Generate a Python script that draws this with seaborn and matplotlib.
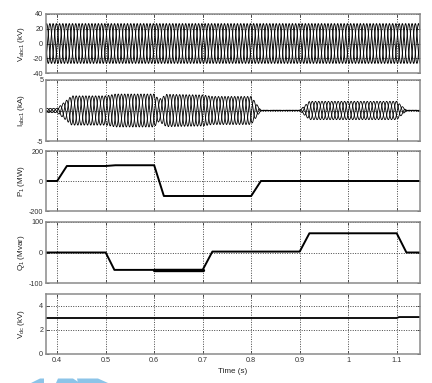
import numpy as np
import pandas as pd
import matplotlib
matplotlib.use("Agg")
import matplotlib.pyplot as plt
from matplotlib.patches import Polygon
import seaborn as sns

# ---------------- data ----------------
x_ticks = [0.4, 0.5, 0.6, 0.7, 0.8, 0.9, 1.0, 1.1]
x_tick_labels = ["0.4", "0.5", "0.6", "0.7", "0.8", "0.9", "1", "1.1"]

freq_hz = 50.0
v_amp_kv = 27.0

# current envelope breakpoints (s, kA)
i_env_t = [0.375, 0.400, 0.430, 0.500, 0.520, 0.600, 0.610, 0.625, 0.700, 0.720, 0.800, 0.820, 0.900, 0.920, 1.100, 1.120, 1.150]
i_env_a = [0.35, 0.35, 2.40, 2.40, 2.70, 2.70, 1.80, 2.65, 2.55, 2.30, 2.30, 0.05, 0.05, 1.50, 1.50, 0.05, 0.05]

# active power P1 breakpoints (s, MW)
p_t = [0.375, 0.400, 0.420, 0.500, 0.520, 0.600, 0.620, 0.800, 0.820, 1.150]
p_v = [0, 0, 100, 100, 105, 105, -100, -100, 0, 0]

# reactive power Q1 breakpoints (s, Mvar)
q_t = [0.375, 0.500, 0.518, 0.700, 0.720, 0.900, 0.920, 1.100, 1.120, 1.150]
q_v = [0, 0, -57, -57, 3, 3, 63, 63, 0, 0]
q_noisy_span = [0.60, 0.70]

# dc voltage breakpoints (s, kV)
vdc_t = [0.375, 1.100, 1.105, 1.150]
vdc_v = [3.0, 3.0, 3.08, 3.08]

phases = ["a", "b", "c"]
phase_shift_deg = [0, -120, 120]

# ---------------- figure ----------------
W, H, DPI = 432, 383, 100
sns.set_theme(style="white")
plt.rcParams["font.family"] = ["Liberation Sans", "DejaVu Sans"]
plt.rcParams["mathtext.fontset"] = "custom"
plt.rcParams["mathtext.rm"] = "Liberation Sans"
plt.rcParams["mathtext.it"] = "Liberation Sans"

fig = plt.figure(figsize=(W / DPI, H / DPI), dpi=DPI)
fig.patch.set_facecolor("white")

left_px, right_px = 46, 420
panels_px = [(14, 73), (80, 141), (151, 211), (222, 283), (294, 354)]
axes = []
for top, bot in panels_px:
    ax = fig.add_axes([left_px / W, 1 - bot / H, (right_px - left_px) / W, (bot - top) / H])
    axes.append(ax)

t = np.arange(0.375, 1.1501, 0.0002)

# three-phase voltage
rows = []
for ph, sh in zip(phases, phase_shift_deg):
    v = v_amp_kv * np.sin(2 * np.pi * freq_hz * t + np.deg2rad(sh))
    rows.append(pd.DataFrame({"t": t, "v": v, "phase": ph}))
df_v = pd.concat(rows)
sns.lineplot(data=df_v, x="t", y="v", hue="phase", palette=["black"] * 3,
             estimator=None, sort=False, lw=0.65, legend=False, ax=axes[0])

# three-phase current
env = np.interp(t, i_env_t, i_env_a)
rows = []
for ph, sh in zip(phases, phase_shift_deg):
    i = env * np.sin(2 * np.pi * freq_hz * t + np.deg2rad(sh) - 0.3)
    rows.append(pd.DataFrame({"t": t, "i": i, "phase": ph}))
df_i = pd.concat(rows)
sns.lineplot(data=df_i, x="t", y="i", hue="phase", palette=["black"] * 3,
             estimator=None, sort=False, lw=0.6, legend=False, ax=axes[1])

# P1
df_p = pd.DataFrame({"t": p_t, "p": p_v})
sns.lineplot(data=df_p, x="t", y="p", color="black", lw=1.4, estimator=None, ax=axes[2])

# Q1
df_q = pd.DataFrame({"t": q_t, "q": q_v})
sns.lineplot(data=df_q, x="t", y="q", color="black", lw=1.4, estimator=None, ax=axes[3])
df_qn = pd.DataFrame({"t": q_noisy_span, "q": np.interp(q_noisy_span, q_t, q_v)})
sns.lineplot(data=df_qn, x="t", y="q", color="black", lw=2.4, estimator=None, ax=axes[3])

# Vdc
df_dc = pd.DataFrame({"t": vdc_t, "v": vdc_v})
sns.lineplot(data=df_dc, x="t", y="v", color="black", lw=1.3, estimator=None, ax=axes[4])

ylims = [(-40, 40), (-5, 5), (-200, 200), (-100, 100), (0, 5)]
yticks = [[-40, -20, 0, 20, 40], [-5, 0, 5], [-200, 0, 200], [-100, 0, 100], [0, 2, 4]]
ylabels = [r"V$_{abc1}$ (kV)", r"I$_{abc1}$ (kA)", r"P$_1$ (MW)", r"Q$_1$ (Mvar)", r"V$_{dc}$ (kV)"]

for k, ax in enumerate(axes):
    ax.set_xlim(0.377, 1.148)
    ax.set_ylim(*ylims[k])
    ax.set_yticks(yticks[k])
    ax.set_yticklabels([str(v) for v in yticks[k]])
    ax.set_xticks(x_ticks)
    if k == len(axes) - 1:
        ax.set_xticklabels(x_tick_labels)
        ax.set_xlabel("Time (s)", fontsize=5.8, color="#222222", labelpad=3)
    else:
        ax.set_xticklabels([])
        ax.set_xlabel("")
    ax.set_ylabel(ylabels[k], fontsize=5.8, color="#222222")
    ax.yaxis.set_label_coords(-0.052, 0.5)
    ax.grid(True, linestyle=(0, (1, 1.5)), color="#444444", lw=0.7)
    ax.set_axisbelow(True)
    ax.tick_params(axis="both", direction="in", length=2.5, width=0.6, colors="#333333",
                   labelsize=5.2, pad=2, top=True, right=True, bottom=True, left=True)
    for s in ax.spines.values():
        s.set_color("#8a8a8a")
        s.set_linewidth(1.1)
        s.set_visible(True)

# light-blue watermark shapes at the bottom
shapes = [
    [(31, 383), (40, 378.5), (44, 378.5), (44, 383)],
    [(56, 383), (58, 378.5), (73, 378.5), (80, 383)],
    [(78, 383), (77, 378.5), (98, 378.5), (108, 383)],
]
for sh in shapes:
    pts = [(x / W, 1 - y / H) for x, y in sh]
    fig.patches.append(Polygon(pts, closed=True, transform=fig.transFigure,
                               facecolor="#8cc4e8", edgecolor="none", figure=fig))

fig.savefig("out.png", dpi=DPI, facecolor="white")
